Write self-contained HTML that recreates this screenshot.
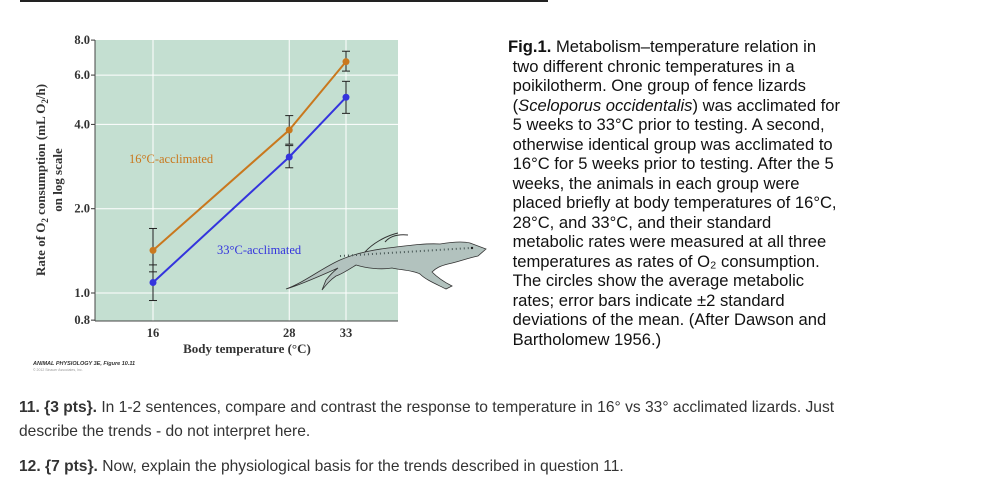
<!DOCTYPE html>
<html><head><meta charset="utf-8">
<style>
body{margin:0;width:989px;height:489px;background:#fff;position:relative;overflow:hidden;font-family:"Liberation Sans",Arial,sans-serif;color:#222}
.cap{position:absolute;left:508px;top:37px;width:380px;font-size:16.6px;line-height:19.5px;color:#111;white-space:nowrap}
.cap p{margin:0}
.q{position:absolute;left:19px;font-size:15.6px;color:#333;line-height:24px;white-space:nowrap}
</style></head><body>
<div style="position:absolute;left:20px;top:0;width:528px;height:2px;background:#222"></div>
<svg id="chart" width="500" height="380" style="position:absolute;left:0;top:0" font-family="Liberation Serif, serif"></svg>
<div class="cap"><b>Fig.1.</b> Metabolism–temperature relation in<br>&nbsp;two different chronic temperatures in a<br>&nbsp;poikilotherm. One group of fence lizards<br>&nbsp;(<i>Sceloporus occidentalis</i>) was acclimated for<br>&nbsp;5 weeks to 33°C prior to testing. A second,<br>&nbsp;otherwise identical group was acclimated to<br>&nbsp;16°C for 5 weeks prior to testing. After the 5<br>&nbsp;weeks, the animals in each group were<br>&nbsp;placed briefly at body temperatures of 16°C,<br>&nbsp;28°C, and 33°C, and their standard<br>&nbsp;metabolic rates were measured at all three<br>&nbsp;temperatures as rates of O₂ consumption.<br>&nbsp;The circles show the average metabolic<br>&nbsp;rates; error bars indicate ±2 standard<br>&nbsp;deviations of the mean. (After Dawson and<br>&nbsp;Bartholomew 1956.)</div>
<div class="q" style="top:396px"><b>11. {3 pts}.</b> In 1-2 sentences, compare and contrast the response to temperature in 16° vs 33° acclimated lizards. Just<br>describe the trends - do not interpret here.</div>
<div class="q" style="top:455px"><b>12. {7 pts}.</b> Now, explain the physiological basis for the trends described in question 11.</div>
<script>
const temps=[16,28,33];
const yTicks=[0.8,1.0,2.0,4.0,6.0,8.0];
const yTickLabels=["0.8","1.0","2.0","4.0","6.0","8.0"];
const warmMean=[1.42,3.82,6.7];   // 16°C-acclimated (orange)
const warmHi=[1.70,4.30,7.3];
const warmLo=[1.19,3.40,6.2];
const coolMean=[1.09,3.06,5.0];   // 33°C-acclimated (blue)
const coolHi=[1.26,3.36,5.7];
const coolLo=[0.94,2.80,4.38];
const NS="http://www.w3.org/2000/svg";
const svg=document.getElementById('chart');
const L=95,R=398,T=40,B=321;
const X=t=>153+(t-16)*(346-153)/17;
const Y=v=>293-84.3*Math.log2(v);
function mk(tag,attrs,parent){const e=document.createElementNS(NS,tag);for(const k in attrs)e.setAttribute(k,attrs[k]);(parent||svg).appendChild(e);return e;}
let bg=mk('rect',{x:L,y:T,width:R-L,height:B-T,fill:'#c4dfd1'});


yTicks.forEach((v,i)=>{
 if(v>0.8&&v<8){let g=mk('line',{x1:L,x2:R,y1:Y(v),y2:Y(v),stroke:'#fff','stroke-width':1});
 
 }
 mk('line',{x1:L-4,x2:L,y1:Y(v),y2:Y(v),stroke:'#333'});
 let t=mk('text',{x:L-5,y:Y(v)+4,'text-anchor':'end','font-size':12.5,'font-weight':'bold',fill:'#333'});t.textContent=yTickLabels[i];
 
 
});
temps.forEach(tp=>{
 let g=mk('line',{x1:X(tp),x2:X(tp),y1:T,y2:B,stroke:'#fff','stroke-width':1});
 
 
 let t=mk('text',{x:X(tp),y:B+16,'text-anchor':'middle','font-size':12.5,'font-weight':'bold',fill:'#333'});t.textContent=tp;
 
 
});
mk('line',{x1:L,x2:L,y1:T,y2:B,stroke:'#444'});
mk('line',{x1:L,x2:R,y1:B,y2:B,stroke:'#444'});
// lizard
let liz=mk('g',{});


mk('path',{d:'M286,289 C305,282 322,268 340,260 C356,253 372,250 388,248 C405,246 425,243 440,244 C452,242 462,241 470,243 L486,249 L478,256 C468,258 458,262 448,264 C440,266 436,268 432,272 C438,278 446,283 452,286 L446,289 C436,284 426,280 420,274 C412,270 400,270 392,268 C380,270 366,268 356,265 C348,270 342,274 336,276 C330,280 326,285 322,290 L326,280 C330,275 334,271 338,268 C320,276 300,285 286,289 Z',fill:'#b2c2be',stroke:'#333','stroke-width':0.8},liz);
mk('path',{d:'M365,252 C372,244 385,236 398,233 M385,242 C390,236 398,234 408,235',stroke:'#333',fill:'none','stroke-width':1},liz);
mk('path',{d:'M340,256 L470,248',stroke:'#4a5a58',fill:'none','stroke-width':2,'stroke-dasharray':'1 3'},liz);
mk('circle',{cx:472,cy:248,r:1.2,fill:'#222'},liz);
function series(mean,hi,lo,color,name){
 temps.forEach((tp,i)=>{
  let e=mk('g',{stroke:'#222','stroke-width':1});
  
  
  mk('line',{x1:X(tp),x2:X(tp),y1:Y(hi[i]),y2:Y(lo[i])},e);
  mk('line',{x1:X(tp)-4,x2:X(tp)+4,y1:Y(hi[i]),y2:Y(hi[i])},e);
  mk('line',{x1:X(tp)-4,x2:X(tp)+4,y1:Y(lo[i]),y2:Y(lo[i])},e);
 });
 let p=mk('polyline',{points:temps.map((tp,i)=>X(tp)+','+Y(mean[i])).join(' '),fill:'none',stroke:color,'stroke-width':2});
 
 
 temps.forEach((tp,i)=>{let c=mk('circle',{cx:X(tp),cy:Y(mean[i]),r:3.5,fill:color});
  
  });
}
series(warmMean,warmHi,warmLo,'#c9781e','acclimated-16');
series(coolMean,coolHi,coolLo,'#3434dd','acclimated-33');
let l1=mk('text',{x:129,y:163,'font-size':12.5,fill:'#c9781e'});l1.textContent='16°C-acclimated';


let l2=mk('text',{x:217,y:254,'font-size':12.5,fill:'#3434dd'});l2.textContent='33°C-acclimated';


let xt=mk('text',{x:247,y:353,'text-anchor':'middle','font-size':13,'font-weight':'bold',fill:'#333'});xt.textContent='Body temperature (°C)';


let yt=mk('text',{transform:'translate(45,180) rotate(-90)','text-anchor':'middle','font-size':13,'font-weight':'bold',fill:'#333'});
yt.innerHTML='Rate of O<tspan font-size="9" dy="3">2</tspan><tspan dy="-3"> consumption (mL O</tspan><tspan font-size="9" dy="3">2</tspan><tspan dy="-3">/h)</tspan>';


let yt2=mk('text',{transform:'translate(62,180) rotate(-90)','text-anchor':'middle','font-size':13,'font-weight':'bold',fill:'#333'});yt2.textContent='on log scale';


let cr=mk('text',{x:33,y:365,'font-size':5.5,'font-style':'italic','font-weight':'bold','font-family':'Liberation Sans, sans-serif',fill:'#333'});cr.textContent='ANIMAL PHYSIOLOGY 3E, Figure 10.11';


let cr2=mk('text',{x:33,y:371,'font-size':3.5,'font-family':'Liberation Sans, sans-serif',fill:'#999'});cr2.textContent='© 2012 Sinauer Associates, Inc.';


</script>
</body></html>
